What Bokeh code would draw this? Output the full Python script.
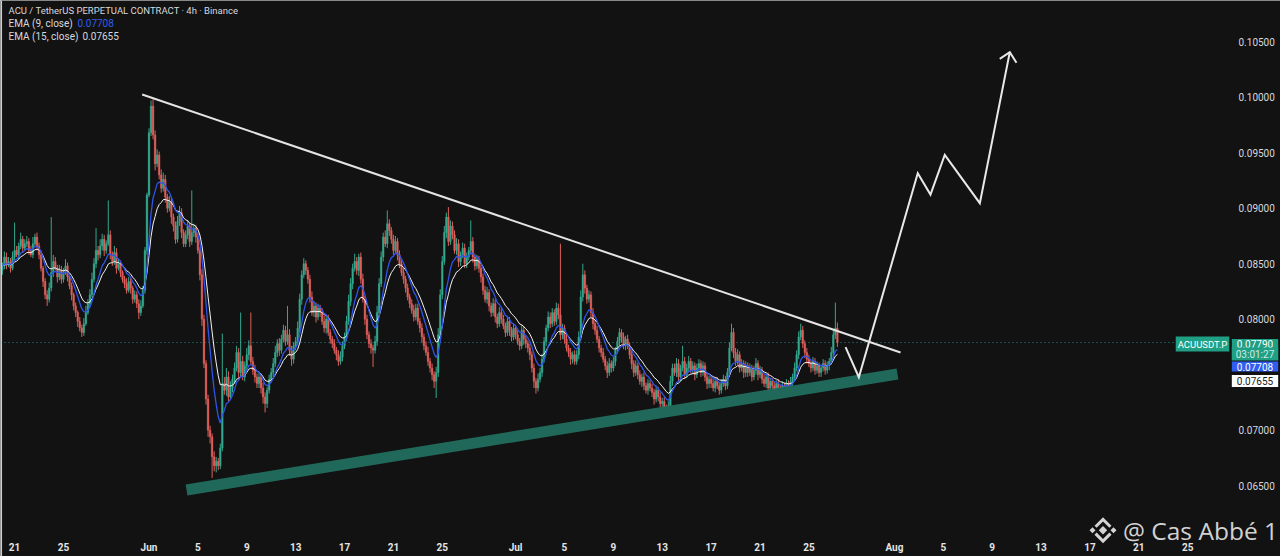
import numpy as np
from bokeh.plotting import figure
from bokeh.models import (Label, Span, FixedTicker, PrintfTickFormatter,
                          PolyAnnotation, Range1d, ColumnDataSource)
from bokeh.embed import file_html
from bokeh.resources import INLINE

# ------------------------------------------------------------------ data
TITLE = "ACU / TetherUS PERPETUAL CONTRACT · 4h · Binance"
EMA9_TEXT = "EMA (9, close)"
EMA15_TEXT = "EMA (15, close)"
SYMBOL = "ACUUSDT.P"
COUNTDOWN = "03:01:27"
WATERMARK = "@ Cas Abbé 1"

FIRST_BAR_DAY = -12.0      # 20 May 00:00, counted in days from 1 Jun 00:00
BAR_DAYS = 1 / 6           # 4h candles
PRICE_UNIT = 1e-4          # prices below are in units of 0.0001 USDT
FIRST_OPEN = 844

CLOSE_BY_DAY = [
    [848, 856, 850, 852, 846, 856],        # May 20
    [862, 858, 866, 872, 864, 868],        # May 21
    [870, 862, 858, 868, 874, 866],        # May 22
    [858, 846, 834, 822, 818, 828],        # May 23
    [842, 852, 846, 838, 844, 836],        # May 24
    [842, 848, 838, 830, 822, 812],        # May 25
    [806, 798, 792, 788, 796, 806],        # May 26
    [814, 822, 836, 850, 862, 858],        # May 27
    [866, 872, 862, 868, 876, 858],        # May 28
    [852, 860, 846, 850, 842, 836],        # May 29
    [832, 826, 834, 828, 818, 822],        # May 30
    [814, 806, 812, 826, 862, 912],        # May 31
    [968, 992, 966, 940, 948, 930],        # Jun 1
    [918, 926, 910, 900, 906, 892],        # Jun 2
    [884, 872, 888, 896, 878, 868],        # Jun 3
    [876, 884, 870, 878, 882, 874],        # Jun 4
    [862, 840, 800, 760, 728, 700],        # Jun 5
    [694, 676, 668, 672, 668, 684],        # Jun 6
    [742, 736, 748, 730, 738, 746],        # Jun 7
    [756, 770, 752, 762, 748, 758],        # Jun 8
    [768, 776, 762, 754, 748, 742],        # Jun 9
    [748, 738, 730, 724, 736, 746],        # Jun 10
    [752, 760, 770, 778, 772, 782],        # Jun 11
    [790, 780, 786, 772, 764, 776],        # Jun 12
    [780, 792, 818, 840, 850, 844],        # Jun 13
    [836, 820, 806, 812, 802, 810],        # Jun 14
    [806, 798, 792, 800, 788, 782],        # Jun 15
    [778, 772, 768, 762, 766, 776],        # Jun 16
    [784, 798, 816, 832, 846, 852],        # Jun 17
    [844, 856, 836, 818, 800, 786],        # Jun 18
    [778, 774, 772, 780, 806, 832],        # Jun 19
    [856, 874, 868, 886, 880, 872],        # Jun 20
    [862, 870, 858, 850, 842, 836],        # Jun 21
    [828, 820, 814, 808, 802, 810],        # Jun 22
    [798, 792, 784, 776, 770, 762],        # Jun 23
    [756, 750, 744, 752, 786, 822],        # Jun 24
    [852, 878, 892, 870, 884, 876],        # Jun 25
    [862, 868, 852, 858, 864, 850],        # Jun 26
    [856, 862, 870, 856, 848, 854],        # Jun 27
    [846, 838, 826, 818, 824, 812],        # Jun 28
    [806, 814, 802, 796, 806, 800],        # Jun 29
    [794, 788, 798, 790, 784, 792],        # Jun 30
    [786, 780, 776, 790, 782, 778],        # Jul 1
    [774, 768, 756, 744, 738, 746],        # Jul 2
    [752, 764, 780, 792, 802, 796],        # Jul 3
    [806, 798, 810, 804, 786, 792],        # Jul 4
    [782, 774, 770, 764, 768, 762],        # Jul 5
    [768, 784, 820, 840, 828, 818],        # Jul 6
    [822, 806, 796, 790, 782, 774],        # Jul 7
    [770, 764, 758, 752, 760, 756],        # Jul 8
    [762, 772, 780, 788, 784, 776],        # Jul 9
    [782, 776, 768, 760, 752, 758],        # Jul 10
    [750, 744, 748, 740, 736, 742],        # Jul 11
    [738, 734, 728, 736, 730, 724],        # Jul 12
    [726, 720, 718, 722, 744, 756],        # Jul 13
    [752, 760, 748, 756, 762, 750],        # Jul 14
    [756, 762, 754, 758, 750, 756],        # Jul 15
    [760, 752, 758, 748, 742, 746],        # Jul 16
    [742, 738, 744, 740, 736, 742],        # Jul 17
    [746, 740, 752, 774, 788, 770],        # Jul 18
    [762, 768, 756, 760, 752, 758],        # Jul 19
    [752, 756, 748, 754, 760, 750],        # Jul 20
    [754, 746, 742, 748, 738, 744],        # Jul 21
    [740, 736, 742, 738, 734, 740],        # Jul 22
    [736, 742, 738, 744, 748, 756],        # Jul 23
    [768, 784, 790, 778, 770, 764],        # Jul 24
    [760, 756, 762, 754, 758, 752],        # Jul 25
    [756, 760, 754, 758, 762, 770],        # Jul 26
    [786, 792, 779],                       # Jul 27 (00:00-08:00)
]

UPPER_WICK_BY_DAY = [
    [3, 5, 4, 4, 3, 5],
    [25, 4, 3, 6, 3, 4], [5, 3, 4, 6, 3, 4], [3, 4, 2, 3, 4, 5], [50, 6, 4, 3, 5, 4],
    [4, 6, 3, 2, 3, 2], [3, 2, 4, 3, 5, 6], [4, 5, 6, 5, 20, 4], [6, 5, 4, 3, 31, 4],
    [3, 6, 4, 5, 3, 2], [3, 5, 4, 3, 2, 4], [3, 4, 5, 4, 3, 2],
    [4, 5, 6, 4, 5, 3], [5, 6, 4, 3, 5, 4], [3, 4, 5, 6, 4, 3], [4, 5, 3, 38, 4, 3],
    [4, 3, 5, 4, 3, 4], [4, 3, 5, 4, 3, 4], [45, 6, 8, 5, 6, 4], [5, 6, 4, 44, 5, 4],
    [6, 5, 30, 4, 5, 3], [4, 3, 5, 4, 3, 4], [4, 5, 6, 4, 5, 4], [5, 4, 26, 5, 4, 3],
    [4, 6, 5, 4, 5, 3], [3, 4, 5, 4, 3, 4], [3, 4, 5, 3, 4, 3], [3, 4, 3, 4, 5, 4],
    [4, 5, 6, 5, 4, 7], [4, 3, 4, 5, 3, 4], [3, 4, 3, 5, 6, 5], [5, 4, 6, 12, 4, 3],
    [4, 5, 3, 4, 3, 4], [3, 4, 3, 4, 5, 4], [4, 3, 4, 3, 4, 5], [3, 4, 3, 5, 6, 5],
    [5, 6, 4, 9, 5, 4], [4, 5, 4, 3, 5, 4], [4, 3, 19, 4, 3, 4], [3, 4, 3, 4, 5, 3],
    [3, 5, 4, 3, 5, 4], [4, 3, 5, 4, 3, 4],
    [3, 4, 3, 5, 4, 3], [3, 4, 3, 4, 3, 5], [4, 5, 4, 3, 5, 4], [4, 3, 5, 4, 64, 4],
    [3, 4, 3, 4, 3, 4], [4, 5, 6, 10, 4, 3], [4, 3, 4, 3, 4, 3], [3, 4, 3, 4, 5, 3],
    [4, 3, 4, 4, 3, 4], [3, 4, 3, 4, 3, 5], [3, 4, 3, 4, 3, 4], [3, 4, 3, 4, 3, 4],
    [3, 4, 3, 4, 5, 4], [4, 5, 4, 3, 14, 4], [4, 5, 3, 4, 3, 4], [4, 3, 4, 3, 4, 3],
    [3, 4, 3, 4, 3, 4], [4, 3, 4, 5, 8, 4], [4, 5, 3, 4, 3, 4], [3, 4, 3, 4, 5, 3],
    [4, 3, 4, 3, 4, 3], [3, 4, 3, 4, 3, 4], [3, 4, 3, 4, 3, 5], [4, 5, 6, 4, 3, 4],
    [4, 3, 4, 3, 4, 3], [3, 4, 3, 4, 3, 5],
    [4, 23, 5],
]

LOWER_WICK_BY_DAY = [
    [4, 3, 5, 3, 4, 2],
    [3, 2, 4, 3, 4, 2], [3, 4, 2, 3, 2, 4], [4, 3, 5, 4, 6, 3], [3, 4, 2, 5, 3, 4],
    [3, 2, 4, 3, 5, 4], [4, 5, 3, 4, 3, 2], [2, 3, 2, 3, 4, 5], [3, 4, 5, 3, 2, 4],
    [4, 3, 5, 2, 4, 3], [4, 3, 2, 5, 4, 3], [4, 6, 3, 2, 3, 4],
    [2, 3, 4, 6, 3, 4], [4, 3, 5, 4, 3, 6], [5, 4, 3, 4, 5, 3], [3, 4, 5, 3, 4, 5],
    [3, 5, 6, 4, 5, 6], [6, 19, 5, 6, 4, 3], [3, 4, 5, 4, 3, 4], [4, 3, 5, 4, 3, 4],
    [4, 5, 3, 4, 5, 4], [4, 5, 6, 8, 4, 3], [3, 4, 3, 4, 5, 3], [3, 4, 3, 5, 6, 4],
    [4, 3, 4, 5, 3, 4], [4, 5, 3, 4, 5, 3], [4, 3, 4, 5, 3, 4], [4, 3, 5, 4, 3, 4],
    [3, 4, 3, 4, 5, 3], [4, 5, 4, 3, 5, 4], [4, 5, 15, 3, 4, 3], [3, 4, 3, 4, 5, 4],
    [4, 3, 5, 4, 3, 4], [4, 3, 4, 3, 4, 3], [3, 4, 5, 4, 3, 4], [4, 5, 6, 15, 4, 3],
    [4, 3, 5, 4, 3, 4], [3, 4, 5, 4, 3, 4], [4, 3, 4, 5, 4, 3], [4, 5, 4, 3, 4, 5],
    [4, 3, 5, 4, 3, 4], [3, 4, 3, 5, 4, 3],
    [4, 3, 4, 3, 5, 4], [4, 5, 4, 6, 5, 3], [3, 4, 3, 4, 3, 4], [3, 4, 3, 4, 5, 4],
    [4, 3, 4, 5, 4, 3], [3, 4, 3, 4, 5, 4], [3, 4, 5, 4, 3, 4], [4, 3, 4, 5, 3, 4],
    [3, 4, 3, 4, 5, 3], [4, 3, 4, 5, 4, 3], [4, 3, 5, 4, 3, 4], [3, 4, 5, 3, 4, 5],
    [4, 3, 3, 4, 3, 4], [3, 4, 5, 4, 3, 4], [3, 4, 3, 4, 5, 3], [3, 4, 3, 4, 5, 4],
    [4, 3, 4, 3, 4, 3], [3, 4, 3, 4, 3, 5], [4, 3, 4, 3, 5, 4], [4, 3, 4, 3, 4, 5],
    [3, 4, 3, 4, 5, 3], [4, 3, 4, 3, 4, 3], [4, 3, 4, 3, 4, 3], [3, 4, 3, 4, 5, 4],
    [3, 4, 3, 4, 3, 4], [4, 3, 4, 3, 4, 3],
    [3, 4, 4],
]

LAST_PRICE = 0.07790
EMA9_LAST = 0.07708
EMA15_LAST = 0.07655

# drawn annotations (days from 1 Jun, price)
TREND_D = [-0.56, 61.5]
TREND_V = [0.10024, 0.07700]
SUPPORT_D = [3.07, 61.25]
SUPPORT_V = [0.06461, 0.07506]
FORECAST_D = [57.0, 58.09, 62.91, 63.95, 65.12, 67.99, 70.44]
FORECAST_V = [0.07748, 0.07477, 0.09315, 0.09123, 0.09481, 0.09045, 0.10405]
ARROW_D = [69.62, 70.44, 70.99]
ARROW_V = [0.10346, 0.10405, 0.10310]

X_TICKS = [-11, -7, 0, 4, 8, 12, 16, 20, 24, 30, 34, 38, 42, 46, 50, 54,
           61, 65, 69, 73, 77, 81, 85]
X_LABELS = ["21", "25", "Jun", "5", "9", "13", "17", "21", "25", "Jul", "5", "9",
            "13", "17", "21", "25", "Aug", "5", "9", "13", "17", "21", "25"]
Y_TICKS = [0.065, 0.070, 0.080, 0.085, 0.090, 0.095, 0.100, 0.105]

# ------------------------------------------------------------------ layout / style
BG = "#121212"
UP = "#34a88e"
DOWN = "#de5f5b"
TEXT = "#d6d8de"
FONT = "Roboto"
W, H = 1280, 556
DAY0_PX, PX_PER_DAY = 148.5, 12.22          # 1 Jun at x=148.5 px
P_REF, P_REF_PX, PX_PER_PRICE = 0.100, 96.7, 11100.0
D_LEFT = -DAY0_PX / PX_PER_DAY
D_RIGHT = (W - DAY0_PX) / PX_PER_DAY
V_TOP = P_REF + P_REF_PX / PX_PER_PRICE
V_BOT = P_REF - (H - P_REF_PX) / PX_PER_PRICE


def px_to_d(sx):
    return D_LEFT + sx * (D_RIGHT - D_LEFT) / W


def py_to_v(sy):
    return V_TOP - sy * (V_TOP - V_BOT) / H


def ema(x, n):
    a = 2.0 / (n + 1)
    out = np.empty_like(x)
    out[0] = x[0]
    for i in range(1, len(x)):
        out[i] = a * x[i] + (1 - a) * out[i - 1]
    return out


close = np.array([c for day in CLOSE_BY_DAY for c in day], float) * PRICE_UNIT
upw = np.array([w for day in UPPER_WICK_BY_DAY for w in day], float) * PRICE_UNIT
low_w = np.array([w for day in LOWER_WICK_BY_DAY for w in day], float) * PRICE_UNIT
n = min(len(close), len(upw), len(low_w))
close, upw, low_w = close[:n], upw[:n], low_w[:n]
open_ = np.concatenate([[FIRST_OPEN * PRICE_UNIT], close[:-1]])
top = np.maximum(open_, close)
bot = np.minimum(open_, close)
high = top + upw
low = bot - low_w
t = FIRST_BAR_DAY + np.arange(n) * BAR_DAYS
col = np.where(close >= open_, UP, DOWN)

src = ColumnDataSource(dict(t=t, high=high, low=low, top=top, bot=bot, col=col))

p = figure(width=W, height=H,
           x_range=Range1d(D_LEFT, D_RIGHT), y_range=Range1d(V_BOT, V_TOP),
           y_axis_location="right", output_backend="svg", toolbar_location=None,
           min_border_left=0, min_border_top=0, min_border_bottom=0, min_border_right=0,
           background_fill_color=BG, border_fill_color=BG, outline_line_color=None)
p.grid.visible = False

xa = p.xaxis[0]
xa.ticker = FixedTicker(ticks=X_TICKS)
xa.major_label_overrides = {k: v for k, v in zip(X_TICKS, X_LABELS)}
xa.fixed_location = py_to_v(537)
ya = p.yaxis[0]
ya.ticker = FixedTicker(ticks=Y_TICKS)
ya.formatter = PrintfTickFormatter(format="%.5f")
ya.fixed_location = px_to_d(1232)
for ax in (xa, ya):
    ax.axis_line_color = None
    ax.major_tick_line_color = None
    ax.minor_tick_line_color = None
    ax.major_tick_out = 0
    ax.major_tick_in = 0
    ax.major_label_text_color = TEXT
    ax.major_label_text_font = FONT
    ax.major_label_text_font_size = "10px"
xa.major_label_text_font_style = "bold"
xa.major_label_text_color = "#e4e4e4"
xa.major_label_standoff = 4
ya.major_label_standoff = 6

# left screenshot edge
p.add_layout(Span(location=px_to_d(0.8), dimension="height", line_color="#cfcfcf",
                  line_width=1.5))

# current price line (up to the symbol tag)
p.line([D_LEFT, px_to_d(1176)], [LAST_PRICE, LAST_PRICE], line_color="#26a69a",
       line_dash="1 3", line_width=1, line_alpha=0.85)

# candles
p.segment(x0="t", y0="high", x1="t", y1="low", line_color="col", line_width=1, source=src)
p.vbar(x="t", width=BAR_DAYS * 0.8, top="top", bottom="bot", fill_color="col",
       line_color="col", line_width=0.4, source=src)

# EMAs
p.line(t, ema(close, 15), line_color="#f4f4f4", line_width=1.0)
p.line(t, ema(close, 9), line_color="#2f55e8", line_width=1.3)

# drawings
p.line(SUPPORT_D, SUPPORT_V, line_color="#20695a", line_width=11, line_cap="butt")
p.line(TREND_D, TREND_V, line_color="#e4e4e4", line_width=2)
p.line(FORECAST_D, FORECAST_V, line_color="#e8e8e8", line_width=2, line_join="miter")
p.line(ARROW_D, ARROW_V, line_color="#e8e8e8", line_width=2, line_join="miter")


def label(sx, sy, text, color=TEXT, size="10px", align="left", bg=None, font=FONT,
          baseline="middle", pad=0, alpha=1.0):
    kw = {}
    if bg is not None:
        kw = dict(background_fill_color=bg, background_fill_alpha=1.0, padding=pad)
    p.add_layout(Label(x=px_to_d(sx), y=py_to_v(sy), text=text, text_color=color,
                       text_font_size=size, text_font=font, text_align=align,
                       text_baseline=baseline, text_alpha=alpha, **kw))


# legend block
label(8, 9.5, TITLE, size="9.5px")
label(8, 22.5, EMA9_TEXT)
label(77, 22.5, f"{EMA9_LAST:.5f}", color="#2f5ef0")
label(8, 35.5, EMA15_TEXT)
label(82, 35.5, f"{EMA15_LAST:.5f}")

# price-axis tags
label(1202, 343.5, SYMBOL, color="#ffffff", size="9.5px", align="center", bg="#1f9f84", pad=2)
label(1254.5, 343.5, f"{LAST_PRICE:.5f}", color="#ffffff", size="10px", align="center",
      bg="#1f9f84", pad=(5, 1))
label(1254.5, 353.5, COUNTDOWN, color="#cdebe3", size="10px", align="center",
      bg="#1f9f84", pad=(4, 1))
label(1254.5, 366, f"{EMA9_LAST:.5f}", color="#ffffff", size="10px", align="center",
      bg="#2f5ef0", pad=(5, 1))
label(1254.5, 380.5, f"{EMA15_LAST:.5f}", color="#1a1a1a", size="10px", align="center",
      bg="#ffffff", pad=(5, 2))

# watermark
label(1122.5, 529.5, WATERMARK, color="#e6e6e6", size="24.5px", font="Open Sans",
      baseline="middle", alpha=0.92)
LOGO_CX, LOGO_CY = 1102.5, 529.7
LOGO_SHAPES = [
    [(0, -4.2), (4.2, 0), (0, 4.2), (-4.2, 0)],
    [(-10.5, -3), (-7.5, 0), (-10.5, 3), (-13.5, 0)],
    [(10.5, -3), (13.5, 0), (10.5, 3), (7.5, 0)],
    [(0, -13), (8.5, -4.5), (6.4, -2.4), (0, -8.8), (-6.4, -2.4), (-8.5, -4.5)],
    [(0, 13), (8.5, 4.5), (6.4, 2.4), (0, 8.8), (-6.4, 2.4), (-8.5, 4.5)],
]
for shp in LOGO_SHAPES:
    p.add_layout(PolyAnnotation(xs=[px_to_d(LOGO_CX + dx) for dx, dy in shp],
                                ys=[py_to_v(LOGO_CY + dy) for dx, dy in shp],
                                fill_color="#e6e6e6", fill_alpha=0.92, line_color=None))

html = file_html(p, INLINE)
html = html.replace("<body>", '<body style="background-color:%s;">' % BG, 1)
open("out.html", "w").write(html)
